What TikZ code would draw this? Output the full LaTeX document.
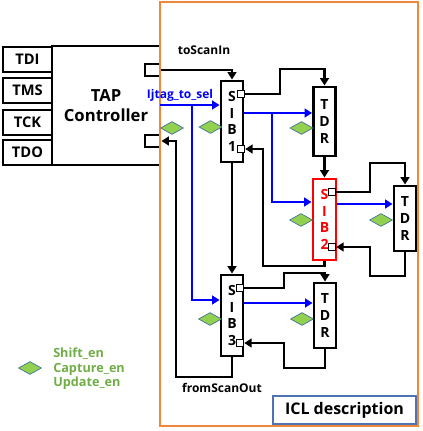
\documentclass[tikz,border=0pt]{standalone}
\usepackage{fontspec}
\setsansfont{Open Sans}
\usetikzlibrary{arrows.meta,shapes.geometric}
\newdimen\pxu \pxu=0.75pt
\definecolor{frameorange}{RGB}{241,135,58}
\definecolor{engreen}{RGB}{146,208,80}
\definecolor{enedge}{RGB}{65,113,156}
\definecolor{legendgreen}{RGB}{112,173,71}
\definecolor{iclblue}{RGB}{79,114,176}

\begin{document}
\begin{tikzpicture}[
    x=0.75pt, y=-0.75pt,
    font=\sffamily\bfseries,
    >={Triangle[width=6.5pt,length=5.5pt]},
    wire/.style={line width=2.2pt},
    sel/.style={wire, blue},
    pin/.style={draw, line width=2.2pt, minimum width=49\pxu, minimum height=25\pxu, inner sep=0pt, font=\sffamily\bfseries\fontsize{11}{13}\selectfont},
    tap/.style={draw, line width=2.2pt, minimum width=108\pxu, minimum height=119\pxu, align=center, font=\sffamily\bfseries\fontsize{12.5}{14.5}\selectfont},
    tapport/.style={draw, line width=2.2pt, fill=white, minimum width=15\pxu, minimum height=12\pxu, inner sep=0pt},
    sib/.style={draw, line width=2.2pt, fill=white, minimum width=22\pxu, minimum height=81\pxu, inner sep=0pt, align=center, font=\sffamily\bfseries\fontsize{10.5}{12.5}\selectfont},
    tdr/.style={sib, minimum height=65\pxu},
    port/.style={draw=black, line width=0.7pt, fill=white, minimum size=7.5\pxu, inner sep=0pt},
    en/.style={diamond, draw=enedge, line width=0.5pt, fill=engreen, minimum width=23\pxu, minimum height=13\pxu, inner sep=0pt},
    lbl/.style={inner sep=0pt, font=\sffamily\bfseries\fontsize{9}{11}\selectfont}
]
    \useasboundingbox (0,0) rectangle (423,431);

    % TAP controller
    \node[tap] (tap) at (106,105.5) {TAP\\Controller};
    \node[pin] (tdi) at (27.5,59.5) {TDI};
    \node[pin] (tms) at (27.5,90.5) {TMS};
    \node[pin] (tck) at (27.5,122.5) {TCK};
    \node[pin] (tdo) at (27.5,152.5) {TDO};
    \node[tapport] (tpin) at (152.5,70) {};
    \node[tapport] (tpout) at (152.5,141) {};

    % ICL frame
    \draw[frameorange, line width=1.6pt] (160,2) rectangle (418,426);

    % Network
    \node[sib] (sib1) at (232,121.5) {S\\I\\B\\1};
    \node[tdr, minimum height=69\pxu] (tdr1) at (324.5,121.5) {T\\D\\R};
    \node[sib, draw=red, text=red, minimum width=23\pxu] (sib2) at (324.5,219.5) {S\\I\\B\\2};
    \node[tdr] (tdr2) at (405,218.5) {T\\D\\R};
    \node[sib] (sib3) at (232,315.5) {S\\I\\B\\3};
    \node[tdr] (tdr3) at (325,315.5) {T\\D\\R};

    \node[port] (s1top) at (241,94) {};
    \node[port] (s1bot) at (241,149) {};
    \node[port] (s2top) at (332,192) {};
    \node[port] (s2bot) at (332,247) {};
    \node[port] (s3top) at (240,288) {};
    \node[port] (s3bot) at (240,343) {};

    % Scan path
    \draw[wire, ->] (tpin.east) -| (sib1.north);
    \draw[wire, ->] (s1top.east) -| (280,69) -| (tdr1.north);
    \draw[wire, ->] (tdr1.south) -- (sib2.north);
    \draw[wire, ->] (s2top.east) -| (370,163) -| (tdr2.north);
    \draw[wire, ->] (tdr2.south) |- (370,276) |- (s2bot.east);
    \draw[wire, ->] (sib2.south) |- (263,266) |- (s1bot.east);
    \draw[wire, ->] (sib1.south) -- (sib3.north);
    \draw[wire, ->] (s3top.east) -| (284,273) -| (tdr3.north);
    \draw[wire, ->] (tdr3.south) |- (284,368) |- (s3bot.east);
    \draw[wire, ->] (sib3.south) |- (176,377) |- (tpout.east);

    % Select lines
    \coordinate (selin) at (160,105);
    \coordinate (selsplit) at (192,105);
    \coordinate (j1) at (272,113);
    \draw[sel, ->] (selin) -- (sib1.west |- selin);
    \draw[sel, ->] (selsplit) |- (sib3.west |- 0,300);
    \draw[sel, ->] (sib1.east |- j1) -- (tdr1.west |- j1);
    \draw[sel, ->] (j1) |- (sib2.west |- 0,202);
    \draw[sel, ->] (sib2.east |- 0,204) -- (tdr2.west |- 0,204);
    \draw[sel, ->] (sib3.east |- 0,303) -- (tdr3.west |- 0,303);

    % Enables
    \node[en] (en0) at (172,128) {};
    \node[en] (en1) at (210.5,127) {};
    \node[en] (en2) at (301.5,128) {};
    \node[en] (en3) at (301,220) {};
    \node[en] (en4) at (381,220) {};
    \node[en] (en5) at (210,319) {};
    \node[en] (en6) at (302,319) {};

    % Labels
    \node[lbl] (toscanin) at (204,50) {toScanIn};
    \node[lbl, blue] (ijtagsel) at (180,95) {Ijtag\_to\_sel};
    \node[lbl] (fromscanout) at (222,388) {fromScanOut};

    % Legend
    \node[en] (enkey) at (30,368) {};
    \node[lbl, legendgreen, align=left, anchor=west, font=\sffamily\bfseries\fontsize{9.5}{10.9}\selectfont] (enlist) at (53,369) {Shift\_en\\Capture\_en\\Update\_en};

    \node[draw=iclblue, line width=0.8pt, fill=white, minimum width=143\pxu, minimum height=28\pxu, font=\sffamily\bfseries\fontsize{12}{14}\selectfont] (icl) at (344.5,410) {ICL description};
\end{tikzpicture}
\end{document}
